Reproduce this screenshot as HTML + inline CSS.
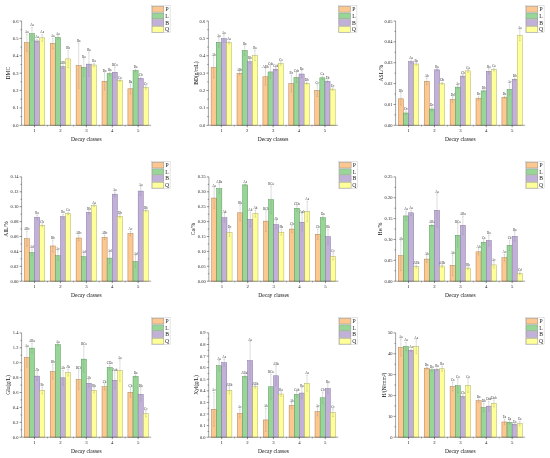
<!DOCTYPE html>
<html><head><meta charset="utf-8"><title>Decay classes charts</title>
<style>
html,body{margin:0;padding:0;background:#fff;}
svg{display:block}
text{font-family:"Liberation Serif",serif;fill:#222}
.bl{font-size:3.2px;text-anchor:middle;fill:#333}
.yt{font-size:4.5px;text-anchor:end}
.xt{font-size:4.8px;text-anchor:middle}
.ti{font-size:5.5px;text-anchor:middle;fill:#111}
.lg{font-size:5.7px;text-anchor:middle}
</style></head><body>
<svg width="550" height="458" viewBox="0 0 550 458">
<rect width="550" height="458" fill="#fff"/>
<g><rect x="24.31" y="42.73" width="5.12" height="82.57" fill="#FDC790" stroke="#A87848" stroke-width="0.45"/><path d="M26.87 34.04V51.42M26.07 34.04h1.6M26.07 51.42h1.6" stroke="#888" stroke-width="0.28" fill="none"/><text x="26.87" y="33.14" class="bl">Aa</text><rect x="29.43" y="33.69" width="5.12" height="91.61" fill="#98D698" stroke="#4F8F4F" stroke-width="0.45"/><path d="M31.99 27.26V40.12M31.19 27.26h1.6M31.19 40.12h1.6" stroke="#888" stroke-width="0.28" fill="none"/><text x="31.99" y="26.36" class="bl">Aa</text><rect x="34.55" y="40.99" width="5.12" height="84.31" fill="#C1B0D7" stroke="#7F6F9F" stroke-width="0.45"/><path d="M37.11 39.25V42.73M36.31 39.25h1.6M36.31 42.73h1.6" stroke="#888" stroke-width="0.28" fill="none"/><text x="37.11" y="38.35" class="bl">Aa</text><rect x="39.67" y="37.86" width="5.12" height="87.44" fill="#FFFF99" stroke="#A8A860" stroke-width="0.45"/><path d="M42.23 34.39V41.34M41.43 34.39h1.6M41.43 41.34h1.6" stroke="#888" stroke-width="0.28" fill="none"/><text x="42.23" y="33.49" class="bl">Aa</text><rect x="50.21" y="43.42" width="5.12" height="81.88" fill="#FDC790" stroke="#A87848" stroke-width="0.45"/><path d="M52.77 38.21V48.64M51.97 38.21h1.6M51.97 48.64h1.6" stroke="#888" stroke-width="0.28" fill="none"/><text x="52.77" y="37.31" class="bl">Aa</text><rect x="55.33" y="37.51" width="5.12" height="87.79" fill="#98D698" stroke="#4F8F4F" stroke-width="0.45"/><path d="M57.89 35.78V39.25M57.09 35.78h1.6M57.09 39.25h1.6" stroke="#888" stroke-width="0.28" fill="none"/><text x="57.89" y="34.88" class="bl">Aa</text><rect x="60.45" y="66.72" width="5.12" height="58.58" fill="#C1B0D7" stroke="#7F6F9F" stroke-width="0.45"/><path d="M63.01 64.98V68.46M62.21 64.98h1.6M62.21 68.46h1.6" stroke="#888" stroke-width="0.28" fill="none"/><text x="63.01" y="64.08" class="bl">ABb</text><rect x="65.57" y="58.9" width="5.12" height="66.4" fill="#FFFF99" stroke="#A8A860" stroke-width="0.45"/><path d="M68.13 50.2V67.59M67.33 50.2h1.6M67.33 67.59h1.6" stroke="#888" stroke-width="0.28" fill="none"/><text x="68.13" y="49.3" class="bl">Bb</text><rect x="76.11" y="65.68" width="5.12" height="59.62" fill="#FDC790" stroke="#A87848" stroke-width="0.45"/><path d="M78.67 43.08V88.27M77.87 43.08h1.6M77.87 88.27h1.6" stroke="#888" stroke-width="0.28" fill="none"/><text x="78.67" y="42.18" class="bl">Ba</text><rect x="81.23" y="67.41" width="5.12" height="57.89" fill="#98D698" stroke="#4F8F4F" stroke-width="0.45"/><path d="M83.79 58.72V76.11M82.99 58.72h1.6M82.99 76.11h1.6" stroke="#888" stroke-width="0.28" fill="none"/><text x="83.79" y="57.82" class="bl">Ba</text><rect x="86.35" y="64.11" width="5.12" height="61.19" fill="#C1B0D7" stroke="#7F6F9F" stroke-width="0.45"/><path d="M88.91 51.94V76.28M88.11 51.94h1.6M88.11 76.28h1.6" stroke="#888" stroke-width="0.28" fill="none"/><text x="88.91" y="51.04" class="bl">Ba</text><rect x="91.47" y="64.98" width="5.12" height="60.32" fill="#FFFF99" stroke="#A8A860" stroke-width="0.45"/><path d="M94.03 63.24V66.72M93.23 63.24h1.6M93.23 66.72h1.6" stroke="#888" stroke-width="0.28" fill="none"/><text x="94.03" y="62.34" class="bl">Ba</text><rect x="102.01" y="81.32" width="5.12" height="43.98" fill="#FDC790" stroke="#A87848" stroke-width="0.45"/><path d="M104.57 72.63V90.01M103.77 72.63h1.6M103.77 90.01h1.6" stroke="#888" stroke-width="0.28" fill="none"/><text x="104.57" y="71.73" class="bl">Ba</text><rect x="107.13" y="73.67" width="5.12" height="51.63" fill="#98D698" stroke="#4F8F4F" stroke-width="0.45"/><path d="M109.69 71.93V75.41M108.89 71.93h1.6M108.89 75.41h1.6" stroke="#888" stroke-width="0.28" fill="none"/><text x="109.69" y="71.03" class="bl">Ba</text><rect x="112.25" y="72.28" width="5.12" height="53.02" fill="#C1B0D7" stroke="#7F6F9F" stroke-width="0.45"/><path d="M114.81 67.07V77.5M114.01 67.07h1.6M114.01 77.5h1.6" stroke="#888" stroke-width="0.28" fill="none"/><text x="114.81" y="66.17" class="bl">BCa</text><rect x="117.37" y="80.62" width="5.12" height="44.68" fill="#FFFF99" stroke="#A8A860" stroke-width="0.45"/><path d="M119.93 79.76V81.49M119.13 79.76h1.6M119.13 81.49h1.6" stroke="#888" stroke-width="0.28" fill="none"/><text x="119.93" y="78.86" class="bl">Ca</text><rect x="127.91" y="88.79" width="5.12" height="36.51" fill="#FDC790" stroke="#A87848" stroke-width="0.45"/><path d="M130.47 83.93V93.66M129.67 83.93h1.6M129.67 93.66h1.6" stroke="#888" stroke-width="0.28" fill="none"/><text x="130.47" y="83.03" class="bl">Ba</text><rect x="133.03" y="70.54" width="5.12" height="54.76" fill="#98D698" stroke="#4F8F4F" stroke-width="0.45"/><path d="M135.59 69.15V71.93M134.79 69.15h1.6M134.79 71.93h1.6" stroke="#888" stroke-width="0.28" fill="none"/><text x="135.59" y="68.25" class="bl">Ba</text><rect x="138.15" y="78.54" width="5.12" height="46.76" fill="#C1B0D7" stroke="#7F6F9F" stroke-width="0.45"/><path d="M140.71 77.15V79.93M139.91 77.15h1.6M139.91 79.93h1.6" stroke="#888" stroke-width="0.28" fill="none"/><text x="140.71" y="76.25" class="bl">Cb</text><rect x="143.27" y="87.4" width="5.12" height="37.9" fill="#FFFF99" stroke="#A8A860" stroke-width="0.45"/><path d="M145.83 85.67V89.14M145.03 85.67h1.6M145.03 89.14h1.6" stroke="#888" stroke-width="0.28" fill="none"/><text x="145.83" y="84.77" class="bl">Cc</text><path d="M21.6 21V125.3H151.1" stroke="#3a3a3a" stroke-width="0.48" fill="none"/><text x="18.4" y="126.8" class="yt">0.0</text><text x="18.4" y="109.42" class="yt">0.1</text><text x="18.4" y="92.03" class="yt">0.2</text><text x="18.4" y="74.65" class="yt">0.3</text><text x="18.4" y="57.27" class="yt">0.4</text><text x="18.4" y="39.88" class="yt">0.5</text><text x="18.4" y="22.5" class="yt">0.6</text><text x="34.55" y="132.1" class="xt">1</text><text x="60.45" y="132.1" class="xt">2</text><text x="86.35" y="132.1" class="xt">3</text><text x="112.25" y="132.1" class="xt">4</text><text x="138.15" y="132.1" class="xt">5</text><path d="M21.6 125.3h-2M21.6 116.61h-1.1M21.6 107.92h-2M21.6 99.22h-1.1M21.6 90.53h-2M21.6 81.84h-1.1M21.6 73.15h-2M21.6 64.46h-1.1M21.6 55.77h-2M21.6 47.08h-1.1M21.6 38.38h-2M21.6 29.69h-1.1M21.6 21h-2M34.55 125.3v2M47.5 125.3v1.1M60.45 125.3v2M73.4 125.3v1.1M86.35 125.3v2M99.3 125.3v1.1M112.25 125.3v2M125.2 125.3v1.1M138.15 125.3v2" stroke="#222" stroke-width="0.5" fill="none"/><text x="86.35" y="141.1" class="ti">Decay classes</text><text transform="translate(8 73.15) rotate(-90)" y="1.8" class="ti">DMC</text><rect x="151.4" y="5.4" width="18.7" height="27.3" fill="#fff" stroke="#bbb" stroke-width="0.4"/><rect x="152.1" y="6.3" width="11.7" height="5.8" fill="#FDC790" stroke="#8a8a8a" stroke-width="0.45"/><text x="167.1" y="11.1" class="lg">P</text><rect x="152.1" y="13" width="11.7" height="5.8" fill="#98D698" stroke="#8a8a8a" stroke-width="0.45"/><text x="167.1" y="17.8" class="lg">L</text><rect x="152.1" y="19.7" width="11.7" height="5.8" fill="#C1B0D7" stroke="#8a8a8a" stroke-width="0.45"/><text x="167.1" y="24.5" class="lg">B</text><rect x="152.1" y="26.4" width="11.7" height="5.8" fill="#FFFF99" stroke="#8a8a8a" stroke-width="0.45"/><text x="167.1" y="31.2" class="lg">Q</text></g>
<g><rect x="211.11" y="67.41" width="5.12" height="57.89" fill="#FDC790" stroke="#A87848" stroke-width="0.45"/><path d="M213.67 56.98V77.84M212.87 56.98h1.6M212.87 77.84h1.6" stroke="#888" stroke-width="0.28" fill="none"/><text x="213.67" y="56.08" class="bl">Ab</text><rect x="216.23" y="42.38" width="5.12" height="82.92" fill="#98D698" stroke="#4F8F4F" stroke-width="0.45"/><path d="M218.79 37.51V47.25M217.99 37.51h1.6M217.99 47.25h1.6" stroke="#888" stroke-width="0.28" fill="none"/><text x="218.79" y="36.61" class="bl">Aa</text><rect x="221.35" y="38.56" width="5.12" height="86.74" fill="#C1B0D7" stroke="#7F6F9F" stroke-width="0.45"/><path d="M223.91 34.73V42.38M223.11 34.73h1.6M223.11 42.38h1.6" stroke="#888" stroke-width="0.28" fill="none"/><text x="223.91" y="33.83" class="bl">Aa</text><rect x="226.47" y="42.73" width="5.12" height="82.57" fill="#FFFF99" stroke="#A8A860" stroke-width="0.45"/><path d="M229.03 41.34V44.12M228.23 41.34h1.6M228.23 44.12h1.6" stroke="#888" stroke-width="0.28" fill="none"/><text x="229.03" y="40.44" class="bl">Aa</text><rect x="237.01" y="73.32" width="5.12" height="51.98" fill="#FDC790" stroke="#A87848" stroke-width="0.45"/><path d="M239.57 71.59V75.06M238.77 71.59h1.6M238.77 75.06h1.6" stroke="#888" stroke-width="0.28" fill="none"/><text x="239.57" y="70.69" class="bl">ABc</text><rect x="242.13" y="50.55" width="5.12" height="74.75" fill="#98D698" stroke="#4F8F4F" stroke-width="0.45"/><path d="M244.69 45.86V55.25M243.89 45.86h1.6M243.89 55.25h1.6" stroke="#888" stroke-width="0.28" fill="none"/><text x="244.69" y="44.96" class="bl">Ba</text><rect x="247.25" y="61.68" width="5.12" height="63.62" fill="#C1B0D7" stroke="#7F6F9F" stroke-width="0.45"/><path d="M249.81 59.59V63.76M249.01 59.59h1.6M249.01 63.76h1.6" stroke="#888" stroke-width="0.28" fill="none"/><text x="249.81" y="58.69" class="bl">Bb</text><rect x="252.37" y="55.42" width="5.12" height="69.88" fill="#FFFF99" stroke="#A8A860" stroke-width="0.45"/><path d="M254.93 50.2V60.63M254.13 50.2h1.6M254.13 60.63h1.6" stroke="#888" stroke-width="0.28" fill="none"/><text x="254.93" y="49.3" class="bl">Ba</text><rect x="262.91" y="76.8" width="5.12" height="48.5" fill="#FDC790" stroke="#A87848" stroke-width="0.45"/><path d="M265.47 68.46V85.14M264.67 68.46h1.6M264.67 85.14h1.6" stroke="#888" stroke-width="0.28" fill="none"/><text x="265.47" y="67.56" class="bl">ABb</text><rect x="268.03" y="71.93" width="5.12" height="53.37" fill="#98D698" stroke="#4F8F4F" stroke-width="0.45"/><path d="M270.59 65.68V78.19M269.79 65.68h1.6M269.79 78.19h1.6" stroke="#888" stroke-width="0.28" fill="none"/><text x="270.59" y="64.78" class="bl">Cab</text><rect x="273.15" y="69.15" width="5.12" height="56.15" fill="#C1B0D7" stroke="#7F6F9F" stroke-width="0.45"/><path d="M275.71 67.41V70.89M274.91 67.41h1.6M274.91 70.89h1.6" stroke="#888" stroke-width="0.28" fill="none"/><text x="275.71" y="66.51" class="bl">Cab</text><rect x="278.27" y="63.42" width="5.12" height="61.88" fill="#FFFF99" stroke="#A8A860" stroke-width="0.45"/><path d="M280.83 61.68V65.15M280.03 61.68h1.6M280.03 65.15h1.6" stroke="#888" stroke-width="0.28" fill="none"/><text x="280.83" y="60.78" class="bl">Ca</text><rect x="288.81" y="83.58" width="5.12" height="41.72" fill="#FDC790" stroke="#A87848" stroke-width="0.45"/><path d="M291.37 75.24V91.92M290.57 75.24h1.6M290.57 91.92h1.6" stroke="#888" stroke-width="0.28" fill="none"/><text x="291.37" y="74.34" class="bl">Bc</text><rect x="293.93" y="77.5" width="5.12" height="47.8" fill="#98D698" stroke="#4F8F4F" stroke-width="0.45"/><path d="M296.49 72.63V82.36M295.69 72.63h1.6M295.69 82.36h1.6" stroke="#888" stroke-width="0.28" fill="none"/><text x="296.49" y="71.73" class="bl">Cab</text><rect x="299.05" y="74.02" width="5.12" height="51.28" fill="#C1B0D7" stroke="#7F6F9F" stroke-width="0.45"/><path d="M301.61 70.54V77.5M300.81 70.54h1.6M300.81 77.5h1.6" stroke="#888" stroke-width="0.28" fill="none"/><text x="301.61" y="69.64" class="bl">Da</text><rect x="304.17" y="83.23" width="5.12" height="42.07" fill="#FFFF99" stroke="#A8A860" stroke-width="0.45"/><path d="M306.73 82.19V84.28M305.93 82.19h1.6M305.93 84.28h1.6" stroke="#888" stroke-width="0.28" fill="none"/><text x="306.73" y="81.29" class="bl">Db</text><rect x="314.71" y="90.53" width="5.12" height="34.77" fill="#FDC790" stroke="#A87848" stroke-width="0.45"/><path d="M317.27 84.62V96.44M316.47 84.62h1.6M316.47 96.44h1.6" stroke="#888" stroke-width="0.28" fill="none"/><text x="317.27" y="83.72" class="bl">Cc</text><rect x="319.83" y="77.84" width="5.12" height="47.46" fill="#98D698" stroke="#4F8F4F" stroke-width="0.45"/><path d="M322.39 76.11V79.58M321.59 76.11h1.6M321.59 79.58h1.6" stroke="#888" stroke-width="0.28" fill="none"/><text x="322.39" y="75.21" class="bl">Ca</text><rect x="324.95" y="81.32" width="5.12" height="43.98" fill="#C1B0D7" stroke="#7F6F9F" stroke-width="0.45"/><path d="M327.51 79.93V82.71M326.71 79.93h1.6M326.71 82.71h1.6" stroke="#888" stroke-width="0.28" fill="none"/><text x="327.51" y="79.03" class="bl">Eb</text><rect x="330.07" y="89.14" width="5.12" height="36.16" fill="#FFFF99" stroke="#A8A860" stroke-width="0.45"/><path d="M332.63 87.75V90.53M331.83 87.75h1.6M331.83 90.53h1.6" stroke="#888" stroke-width="0.28" fill="none"/><text x="332.63" y="86.85" class="bl">Ec</text><path d="M208.4 21V125.3H337.9" stroke="#3a3a3a" stroke-width="0.48" fill="none"/><text x="205.2" y="126.8" class="yt">0.0</text><text x="205.2" y="109.42" class="yt">0.1</text><text x="205.2" y="92.03" class="yt">0.2</text><text x="205.2" y="74.65" class="yt">0.3</text><text x="205.2" y="57.27" class="yt">0.4</text><text x="205.2" y="39.88" class="yt">0.5</text><text x="205.2" y="22.5" class="yt">0.6</text><text x="221.35" y="132.1" class="xt">1</text><text x="247.25" y="132.1" class="xt">2</text><text x="273.15" y="132.1" class="xt">3</text><text x="299.05" y="132.1" class="xt">4</text><text x="324.95" y="132.1" class="xt">5</text><path d="M208.4 125.3h-2M208.4 116.61h-1.1M208.4 107.92h-2M208.4 99.22h-1.1M208.4 90.53h-2M208.4 81.84h-1.1M208.4 73.15h-2M208.4 64.46h-1.1M208.4 55.77h-2M208.4 47.08h-1.1M208.4 38.38h-2M208.4 29.69h-1.1M208.4 21h-2M221.35 125.3v2M234.3 125.3v1.1M247.25 125.3v2M260.2 125.3v1.1M273.15 125.3v2M286.1 125.3v1.1M299.05 125.3v2M312 125.3v1.1M324.95 125.3v2" stroke="#222" stroke-width="0.5" fill="none"/><text x="273.15" y="141.1" class="ti">Decay classes</text><text transform="translate(196.2 73.15) rotate(-90)" y="1.8" class="ti">BD(g/mL)</text><rect x="338.2" y="5.4" width="18.7" height="27.3" fill="#fff" stroke="#bbb" stroke-width="0.4"/><rect x="338.9" y="6.3" width="11.7" height="5.8" fill="#FDC790" stroke="#8a8a8a" stroke-width="0.45"/><text x="353.9" y="11.1" class="lg">P</text><rect x="338.9" y="13" width="11.7" height="5.8" fill="#98D698" stroke="#8a8a8a" stroke-width="0.45"/><text x="353.9" y="17.8" class="lg">L</text><rect x="338.9" y="19.7" width="11.7" height="5.8" fill="#C1B0D7" stroke="#8a8a8a" stroke-width="0.45"/><text x="353.9" y="24.5" class="lg">B</text><rect x="338.9" y="26.4" width="11.7" height="5.8" fill="#FFFF99" stroke="#8a8a8a" stroke-width="0.45"/><text x="353.9" y="31.2" class="lg">Q</text></g>
<g><rect x="398.31" y="98.81" width="5.12" height="26.49" fill="#FDC790" stroke="#A87848" stroke-width="0.45"/><path d="M400.87 92.55V105.07M400.07 92.55h1.6M400.07 105.07h1.6" stroke="#888" stroke-width="0.28" fill="none"/><text x="400.87" y="91.65" class="bl">Bb</text><rect x="403.43" y="112.99" width="5.12" height="12.31" fill="#98D698" stroke="#4F8F4F" stroke-width="0.45"/><path d="M405.99 111.32V114.66M405.19 111.32h1.6M405.19 114.66h1.6" stroke="#888" stroke-width="0.28" fill="none"/><text x="405.99" y="110.42" class="bl">Dc</text><rect x="408.55" y="61.68" width="5.12" height="63.62" fill="#C1B0D7" stroke="#7F6F9F" stroke-width="0.45"/><path d="M411.11 60.22V63.14M410.31 60.22h1.6M410.31 63.14h1.6" stroke="#888" stroke-width="0.28" fill="none"/><text x="411.11" y="59.32" class="bl">Aa</text><rect x="413.67" y="63.97" width="5.12" height="61.33" fill="#FFFF99" stroke="#A8A860" stroke-width="0.45"/><path d="M416.23 62.51V65.43M415.43 62.51h1.6M415.43 65.43h1.6" stroke="#888" stroke-width="0.28" fill="none"/><text x="416.23" y="61.61" class="bl">Ba</text><rect x="424.21" y="81.29" width="5.12" height="44.01" fill="#FDC790" stroke="#A87848" stroke-width="0.45"/><path d="M426.77 77.95V84.62M425.97 77.95h1.6M425.97 84.62h1.6" stroke="#888" stroke-width="0.28" fill="none"/><text x="426.77" y="77.05" class="bl">Ab</text><rect x="429.33" y="109.03" width="5.12" height="16.27" fill="#98D698" stroke="#4F8F4F" stroke-width="0.45"/><path d="M431.89 106.94V111.12M431.09 106.94h1.6M431.09 111.12h1.6" stroke="#888" stroke-width="0.28" fill="none"/><text x="431.89" y="106.04" class="bl">Dc</text><rect x="434.45" y="69.81" width="5.12" height="55.49" fill="#C1B0D7" stroke="#7F6F9F" stroke-width="0.45"/><path d="M437.01 68.77V70.86M436.21 68.77h1.6M436.21 70.86h1.6" stroke="#888" stroke-width="0.28" fill="none"/><text x="437.01" y="67.87" class="bl">Ba</text><rect x="439.57" y="83.37" width="5.12" height="41.93" fill="#FFFF99" stroke="#A8A860" stroke-width="0.45"/><path d="M442.13 82.33V84.41M441.33 82.33h1.6M441.33 84.41h1.6" stroke="#888" stroke-width="0.28" fill="none"/><text x="442.13" y="81.43" class="bl">Db</text><rect x="450.11" y="99.43" width="5.12" height="25.87" fill="#FDC790" stroke="#A87848" stroke-width="0.45"/><path d="M452.67 96.72V102.15M451.87 96.72h1.6M451.87 102.15h1.6" stroke="#888" stroke-width="0.28" fill="none"/><text x="452.67" y="95.82" class="bl">Bd</text><rect x="455.23" y="87.13" width="5.12" height="38.17" fill="#98D698" stroke="#4F8F4F" stroke-width="0.45"/><path d="M457.79 85.46V88.79M456.99 85.46h1.6M456.99 88.79h1.6" stroke="#888" stroke-width="0.28" fill="none"/><text x="457.79" y="84.56" class="bl">Ac</text><rect x="460.35" y="76.07" width="5.12" height="49.23" fill="#C1B0D7" stroke="#7F6F9F" stroke-width="0.45"/><path d="M462.91 74.4V77.74M462.11 74.4h1.6M462.11 77.74h1.6" stroke="#888" stroke-width="0.28" fill="none"/><text x="462.91" y="73.5" class="bl">Cb</text><rect x="465.47" y="70.86" width="5.12" height="54.44" fill="#FFFF99" stroke="#A8A860" stroke-width="0.45"/><path d="M468.03 69.4V72.32M467.23 69.4h1.6M467.23 72.32h1.6" stroke="#888" stroke-width="0.28" fill="none"/><text x="468.03" y="68.5" class="bl">Ca</text><rect x="476.01" y="98.18" width="5.12" height="27.12" fill="#FDC790" stroke="#A87848" stroke-width="0.45"/><path d="M478.57 96.1V100.27M477.77 96.1h1.6M477.77 100.27h1.6" stroke="#888" stroke-width="0.28" fill="none"/><text x="478.57" y="95.2" class="bl">Bc</text><rect x="481.13" y="90.88" width="5.12" height="34.42" fill="#98D698" stroke="#4F8F4F" stroke-width="0.45"/><path d="M483.69 89.84V91.92M482.89 89.84h1.6M482.89 91.92h1.6" stroke="#888" stroke-width="0.28" fill="none"/><text x="483.69" y="88.94" class="bl">Bb</text><rect x="486.25" y="71.27" width="5.12" height="54.03" fill="#C1B0D7" stroke="#7F6F9F" stroke-width="0.45"/><path d="M488.81 68.56V73.98M488.01 68.56h1.6M488.01 73.98h1.6" stroke="#888" stroke-width="0.28" fill="none"/><text x="488.81" y="67.66" class="bl">Ba</text><rect x="491.37" y="69.6" width="5.12" height="55.7" fill="#FFFF99" stroke="#A8A860" stroke-width="0.45"/><path d="M493.93 68.14V71.06M493.13 68.14h1.6M493.13 71.06h1.6" stroke="#888" stroke-width="0.28" fill="none"/><text x="493.93" y="67.24" class="bl">Ca</text><rect x="501.91" y="97.35" width="5.12" height="27.95" fill="#FDC790" stroke="#A87848" stroke-width="0.45"/><path d="M504.47 96.3V98.39M503.67 96.3h1.6M503.67 98.39h1.6" stroke="#888" stroke-width="0.28" fill="none"/><text x="504.47" y="95.4" class="bl">Bc</text><rect x="507.03" y="89.42" width="5.12" height="35.88" fill="#98D698" stroke="#4F8F4F" stroke-width="0.45"/><path d="M509.59 84V94.84M508.79 84h1.6M508.79 94.84h1.6" stroke="#888" stroke-width="0.28" fill="none"/><text x="509.59" y="83.1" class="bl">Ac</text><rect x="512.15" y="79.2" width="5.12" height="46.1" fill="#C1B0D7" stroke="#7F6F9F" stroke-width="0.45"/><path d="M514.71 78.16V80.24M513.91 78.16h1.6M513.91 80.24h1.6" stroke="#888" stroke-width="0.28" fill="none"/><text x="514.71" y="77.26" class="bl">Db</text><rect x="517.27" y="35.18" width="5.12" height="90.12" fill="#FFFF99" stroke="#A8A860" stroke-width="0.45"/><path d="M519.83 29.76V40.61M519.03 29.76h1.6M519.03 40.61h1.6" stroke="#888" stroke-width="0.28" fill="none"/><text x="519.83" y="28.86" class="bl">Aa</text><path d="M395.6 21V125.3H525.1" stroke="#3a3a3a" stroke-width="0.48" fill="none"/><text x="392.4" y="126.8" class="yt">0.00</text><text x="392.4" y="105.94" class="yt">0.01</text><text x="392.4" y="85.08" class="yt">0.02</text><text x="392.4" y="64.22" class="yt">0.03</text><text x="392.4" y="43.36" class="yt">0.04</text><text x="392.4" y="22.5" class="yt">0.05</text><text x="408.55" y="132.1" class="xt">1</text><text x="434.45" y="132.1" class="xt">2</text><text x="460.35" y="132.1" class="xt">3</text><text x="486.25" y="132.1" class="xt">4</text><text x="512.15" y="132.1" class="xt">5</text><path d="M395.6 125.3h-2M395.6 114.87h-1.1M395.6 104.44h-2M395.6 94.01h-1.1M395.6 83.58h-2M395.6 73.15h-1.1M395.6 62.72h-2M395.6 52.29h-1.1M395.6 41.86h-2M395.6 31.43h-1.1M395.6 21h-2M408.55 125.3v2M421.5 125.3v1.1M434.45 125.3v2M447.4 125.3v1.1M460.35 125.3v2M473.3 125.3v1.1M486.25 125.3v2M499.2 125.3v1.1M512.15 125.3v2" stroke="#222" stroke-width="0.5" fill="none"/><text x="460.35" y="141.1" class="ti">Decay classes</text><text transform="translate(380.7 73.15) rotate(-90)" y="1.8" class="ti">ASL/%</text><rect x="525.4" y="5.4" width="18.7" height="27.3" fill="#fff" stroke="#bbb" stroke-width="0.4"/><rect x="526.1" y="6.3" width="11.7" height="5.8" fill="#FDC790" stroke="#8a8a8a" stroke-width="0.45"/><text x="541.1" y="11.1" class="lg">P</text><rect x="526.1" y="13" width="11.7" height="5.8" fill="#98D698" stroke="#8a8a8a" stroke-width="0.45"/><text x="541.1" y="17.8" class="lg">L</text><rect x="526.1" y="19.7" width="11.7" height="5.8" fill="#C1B0D7" stroke="#8a8a8a" stroke-width="0.45"/><text x="541.1" y="24.5" class="lg">B</text><rect x="526.1" y="26.4" width="11.7" height="5.8" fill="#FFFF99" stroke="#8a8a8a" stroke-width="0.45"/><text x="541.1" y="31.2" class="lg">Q</text></g>
<g><rect x="24.31" y="238.73" width="5.12" height="42.46" fill="#FDC790" stroke="#A87848" stroke-width="0.45"/><path d="M26.87 231.28V246.19M26.07 231.28h1.6M26.07 246.19h1.6" stroke="#888" stroke-width="0.28" fill="none"/><text x="26.87" y="230.38" class="bl">ABc</text><rect x="29.43" y="252.59" width="5.12" height="28.61" fill="#98D698" stroke="#4F8F4F" stroke-width="0.45"/><path d="M31.99 249.16V256.02M31.19 249.16h1.6M31.19 256.02h1.6" stroke="#888" stroke-width="0.28" fill="none"/><text x="31.99" y="248.26" class="bl">Ad</text><rect x="34.55" y="217.28" width="5.12" height="63.92" fill="#C1B0D7" stroke="#7F6F9F" stroke-width="0.45"/><path d="M37.11 215.04V219.51M36.31 215.04h1.6M36.31 219.51h1.6" stroke="#888" stroke-width="0.28" fill="none"/><text x="37.11" y="214.14" class="bl">Ba</text><rect x="39.67" y="225.25" width="5.12" height="55.95" fill="#FFFF99" stroke="#A8A860" stroke-width="0.45"/><path d="M42.23 223.76V226.74M41.43 223.76h1.6M41.43 226.74h1.6" stroke="#888" stroke-width="0.28" fill="none"/><text x="42.23" y="222.86" class="bl">Cb</text><rect x="50.21" y="245.96" width="5.12" height="35.24" fill="#FDC790" stroke="#A87848" stroke-width="0.45"/><path d="M52.77 240V251.92M51.97 240h1.6M51.97 251.92h1.6" stroke="#888" stroke-width="0.28" fill="none"/><text x="52.77" y="239.1" class="bl">Bb</text><rect x="55.33" y="255.65" width="5.12" height="25.55" fill="#98D698" stroke="#4F8F4F" stroke-width="0.45"/><path d="M57.89 250.8V260.49M57.09 250.8h1.6M57.09 260.49h1.6" stroke="#888" stroke-width="0.28" fill="none"/><text x="57.89" y="249.9" class="bl">Ac</text><rect x="60.45" y="216.61" width="5.12" height="64.59" fill="#C1B0D7" stroke="#7F6F9F" stroke-width="0.45"/><path d="M63.01 214.37V218.84M62.21 214.37h1.6M62.21 218.84h1.6" stroke="#888" stroke-width="0.28" fill="none"/><text x="63.01" y="213.47" class="bl">Ba</text><rect x="65.57" y="213.48" width="5.12" height="67.72" fill="#FFFF99" stroke="#A8A860" stroke-width="0.45"/><path d="M68.13 212.36V214.6M67.33 212.36h1.6M67.33 214.6h1.6" stroke="#888" stroke-width="0.28" fill="none"/><text x="68.13" y="211.46" class="bl">Ca</text><rect x="76.11" y="237.99" width="5.12" height="43.21" fill="#FDC790" stroke="#A87848" stroke-width="0.45"/><path d="M78.67 235.23V240.75M77.87 235.23h1.6M77.87 240.75h1.6" stroke="#888" stroke-width="0.28" fill="none"/><text x="78.67" y="234.33" class="bl">ABc</text><rect x="81.23" y="256.69" width="5.12" height="24.51" fill="#98D698" stroke="#4F8F4F" stroke-width="0.45"/><path d="M83.79 253.93V259.45M82.99 253.93h1.6M82.99 259.45h1.6" stroke="#888" stroke-width="0.28" fill="none"/><text x="83.79" y="253.03" class="bl">Ad</text><rect x="86.35" y="212.44" width="5.12" height="68.76" fill="#C1B0D7" stroke="#7F6F9F" stroke-width="0.45"/><path d="M88.91 210.72V214.15M88.11 210.72h1.6M88.11 214.15h1.6" stroke="#888" stroke-width="0.28" fill="none"/><text x="88.91" y="209.82" class="bl">Bb</text><rect x="91.47" y="205.58" width="5.12" height="75.62" fill="#FFFF99" stroke="#A8A860" stroke-width="0.45"/><path d="M94.03 204.46V206.7M93.23 204.46h1.6M93.23 206.7h1.6" stroke="#888" stroke-width="0.28" fill="none"/><text x="94.03" y="203.56" class="bl">Aa</text><rect x="102.01" y="237.32" width="5.12" height="43.88" fill="#FDC790" stroke="#A87848" stroke-width="0.45"/><path d="M104.57 235.08V239.55M103.77 235.08h1.6M103.77 239.55h1.6" stroke="#888" stroke-width="0.28" fill="none"/><text x="104.57" y="234.18" class="bl">ABc</text><rect x="107.13" y="258.11" width="5.12" height="23.09" fill="#98D698" stroke="#4F8F4F" stroke-width="0.45"/><path d="M109.69 252.89V263.32M108.89 252.89h1.6M108.89 263.32h1.6" stroke="#888" stroke-width="0.28" fill="none"/><text x="109.69" y="251.99" class="bl">Ad</text><rect x="112.25" y="194.18" width="5.12" height="87.02" fill="#C1B0D7" stroke="#7F6F9F" stroke-width="0.45"/><path d="M114.81 191.95V196.42M114.01 191.95h1.6M114.01 196.42h1.6" stroke="#888" stroke-width="0.28" fill="none"/><text x="114.81" y="191.05" class="bl">Aa</text><rect x="117.37" y="216.24" width="5.12" height="64.96" fill="#FFFF99" stroke="#A8A860" stroke-width="0.45"/><path d="M119.93 214.52V217.95M119.13 214.52h1.6M119.13 217.95h1.6" stroke="#888" stroke-width="0.28" fill="none"/><text x="119.93" y="213.62" class="bl">Db</text><rect x="127.91" y="233.52" width="5.12" height="47.68" fill="#FDC790" stroke="#A87848" stroke-width="0.45"/><path d="M130.47 231.28V235.75M129.67 231.28h1.6M129.67 235.75h1.6" stroke="#888" stroke-width="0.28" fill="none"/><text x="130.47" y="230.38" class="bl">Ac</text><rect x="133.03" y="261.53" width="5.12" height="19.67" fill="#98D698" stroke="#4F8F4F" stroke-width="0.45"/><path d="M135.59 255.57V267.49M134.79 255.57h1.6M134.79 267.49h1.6" stroke="#888" stroke-width="0.28" fill="none"/><text x="135.59" y="254.67" class="bl">Ad</text><rect x="138.15" y="191.06" width="5.12" height="90.14" fill="#C1B0D7" stroke="#7F6F9F" stroke-width="0.45"/><path d="M140.71 186.59V195.53M139.91 186.59h1.6M139.91 195.53h1.6" stroke="#888" stroke-width="0.28" fill="none"/><text x="140.71" y="185.69" class="bl">Aa</text><rect x="143.27" y="210.72" width="5.12" height="70.48" fill="#FFFF99" stroke="#A8A860" stroke-width="0.45"/><path d="M145.83 209.61V211.84M145.03 209.61h1.6M145.03 211.84h1.6" stroke="#888" stroke-width="0.28" fill="none"/><text x="145.83" y="208.71" class="bl">Bb</text><path d="M21.6 176.9V281.2H151.1" stroke="#3a3a3a" stroke-width="0.48" fill="none"/><text x="18.4" y="282.7" class="yt">0.00</text><text x="18.4" y="267.8" class="yt">0.02</text><text x="18.4" y="252.9" class="yt">0.04</text><text x="18.4" y="238" class="yt">0.06</text><text x="18.4" y="223.1" class="yt">0.08</text><text x="18.4" y="208.2" class="yt">0.10</text><text x="18.4" y="193.3" class="yt">0.12</text><text x="18.4" y="178.4" class="yt">0.14</text><text x="34.55" y="288" class="xt">1</text><text x="60.45" y="288" class="xt">2</text><text x="86.35" y="288" class="xt">3</text><text x="112.25" y="288" class="xt">4</text><text x="138.15" y="288" class="xt">5</text><path d="M21.6 281.2h-2M21.6 273.75h-1.1M21.6 266.3h-2M21.6 258.85h-1.1M21.6 251.4h-2M21.6 243.95h-1.1M21.6 236.5h-2M21.6 229.05h-1.1M21.6 221.6h-2M21.6 214.15h-1.1M21.6 206.7h-2M21.6 199.25h-1.1M21.6 191.8h-2M21.6 184.35h-1.1M21.6 176.9h-2M34.55 281.2v2M47.5 281.2v1.1M60.45 281.2v2M73.4 281.2v1.1M86.35 281.2v2M99.3 281.2v1.1M112.25 281.2v2M125.2 281.2v1.1M138.15 281.2v2" stroke="#222" stroke-width="0.5" fill="none"/><text x="86.35" y="297" class="ti">Decay classes</text><text transform="translate(6.3 229.05) rotate(-90)" y="1.8" class="ti">AIL/%</text><rect x="151.4" y="161.3" width="18.7" height="27.3" fill="#fff" stroke="#bbb" stroke-width="0.4"/><rect x="152.1" y="162.2" width="11.7" height="5.8" fill="#FDC790" stroke="#8a8a8a" stroke-width="0.45"/><text x="167.1" y="167" class="lg">P</text><rect x="152.1" y="168.9" width="11.7" height="5.8" fill="#98D698" stroke="#8a8a8a" stroke-width="0.45"/><text x="167.1" y="173.7" class="lg">L</text><rect x="152.1" y="175.6" width="11.7" height="5.8" fill="#C1B0D7" stroke="#8a8a8a" stroke-width="0.45"/><text x="167.1" y="180.4" class="lg">B</text><rect x="152.1" y="182.3" width="11.7" height="5.8" fill="#FFFF99" stroke="#8a8a8a" stroke-width="0.45"/><text x="167.1" y="187.1" class="lg">Q</text></g>
<g><rect x="211.61" y="198.06" width="5.12" height="83.14" fill="#FDC790" stroke="#A87848" stroke-width="0.45"/><path d="M214.17 187.63V208.49M213.37 187.63h1.6M213.37 208.49h1.6" stroke="#888" stroke-width="0.28" fill="none"/><text x="214.17" y="186.73" class="bl">Aa</text><rect x="216.73" y="188.67" width="5.12" height="92.53" fill="#98D698" stroke="#4F8F4F" stroke-width="0.45"/><path d="M219.29 183.9V193.44M218.49 183.9h1.6M218.49 193.44h1.6" stroke="#888" stroke-width="0.28" fill="none"/><text x="219.29" y="183" class="bl">ABa</text><rect x="221.85" y="217.73" width="5.12" height="63.47" fill="#C1B0D7" stroke="#7F6F9F" stroke-width="0.45"/><path d="M224.41 213.55V221.9M223.61 213.55h1.6M223.61 221.9h1.6" stroke="#888" stroke-width="0.28" fill="none"/><text x="224.41" y="212.65" class="bl">Ab</text><rect x="226.97" y="232.51" width="5.12" height="48.69" fill="#FFFF99" stroke="#A8A860" stroke-width="0.45"/><path d="M229.53 228.63V236.38M228.73 228.63h1.6M228.73 236.38h1.6" stroke="#888" stroke-width="0.28" fill="none"/><text x="229.53" y="227.73" class="bl">Bc</text><rect x="237.51" y="212.84" width="5.12" height="68.36" fill="#FDC790" stroke="#A87848" stroke-width="0.45"/><path d="M240.07 204.79V220.88M239.27 204.79h1.6M239.27 220.88h1.6" stroke="#888" stroke-width="0.28" fill="none"/><text x="240.07" y="203.89" class="bl">Bb</text><rect x="242.63" y="184.86" width="5.12" height="96.34" fill="#98D698" stroke="#4F8F4F" stroke-width="0.45"/><path d="M245.19 183.96V185.75M244.39 183.96h1.6M244.39 185.75h1.6" stroke="#888" stroke-width="0.28" fill="none"/><text x="245.19" y="183.06" class="bl">Aa</text><rect x="247.75" y="219.39" width="5.12" height="61.81" fill="#C1B0D7" stroke="#7F6F9F" stroke-width="0.45"/><path d="M250.31 211.94V226.84M249.51 211.94h1.6M249.51 226.84h1.6" stroke="#888" stroke-width="0.28" fill="none"/><text x="250.31" y="211.04" class="bl">Ab</text><rect x="252.87" y="213.55" width="5.12" height="67.65" fill="#FFFF99" stroke="#A8A860" stroke-width="0.45"/><path d="M255.43 209.98V217.13M254.63 209.98h1.6M254.63 217.13h1.6" stroke="#888" stroke-width="0.28" fill="none"/><text x="255.43" y="209.08" class="bl">Ab</text><rect x="263.41" y="221.12" width="5.12" height="60.08" fill="#FDC790" stroke="#A87848" stroke-width="0.45"/><path d="M265.97 210.69V231.55M265.17 210.69h1.6M265.17 231.55h1.6" stroke="#888" stroke-width="0.28" fill="none"/><text x="265.97" y="209.79" class="bl">BCb</text><rect x="268.53" y="199.7" width="5.12" height="81.5" fill="#98D698" stroke="#4F8F4F" stroke-width="0.45"/><path d="M271.09 185.99V213.4M270.29 185.99h1.6M270.29 213.4h1.6" stroke="#888" stroke-width="0.28" fill="none"/><text x="271.09" y="185.09" class="bl">BCa</text><rect x="273.65" y="224.58" width="5.12" height="56.62" fill="#C1B0D7" stroke="#7F6F9F" stroke-width="0.45"/><path d="M276.21 220.41V228.75M275.41 220.41h1.6M275.41 228.75h1.6" stroke="#888" stroke-width="0.28" fill="none"/><text x="276.21" y="219.51" class="bl">Ab</text><rect x="278.77" y="232.18" width="5.12" height="49.02" fill="#FFFF99" stroke="#A8A860" stroke-width="0.45"/><path d="M281.33 229.2V235.16M280.53 229.2h1.6M280.53 235.16h1.6" stroke="#888" stroke-width="0.28" fill="none"/><text x="281.33" y="228.3" class="bl">Bb</text><rect x="289.31" y="229.05" width="5.12" height="52.15" fill="#FDC790" stroke="#A87848" stroke-width="0.45"/><path d="M291.87 225.47V232.63M291.07 225.47h1.6M291.07 232.63h1.6" stroke="#888" stroke-width="0.28" fill="none"/><text x="291.87" y="224.57" class="bl">Cb</text><rect x="294.43" y="208.34" width="5.12" height="72.86" fill="#98D698" stroke="#4F8F4F" stroke-width="0.45"/><path d="M296.99 205.66V211.02M296.19 205.66h1.6M296.19 211.02h1.6" stroke="#888" stroke-width="0.28" fill="none"/><text x="296.99" y="204.76" class="bl">CDa</text><rect x="299.55" y="222.2" width="5.12" height="59" fill="#C1B0D7" stroke="#7F6F9F" stroke-width="0.45"/><path d="M302.11 213.55V230.84M301.31 213.55h1.6M301.31 230.84h1.6" stroke="#888" stroke-width="0.28" fill="none"/><text x="302.11" y="212.65" class="bl">Aab</text><rect x="304.67" y="211.47" width="5.12" height="69.73" fill="#FFFF99" stroke="#A8A860" stroke-width="0.45"/><path d="M307.23 201.34V221.6M306.43 201.34h1.6M306.43 221.6h1.6" stroke="#888" stroke-width="0.28" fill="none"/><text x="307.23" y="200.44" class="bl">Aa</text><rect x="315.21" y="234.24" width="5.12" height="46.96" fill="#FDC790" stroke="#A87848" stroke-width="0.45"/><path d="M317.77 229.17V239.3M316.97 229.17h1.6M316.97 239.3h1.6" stroke="#888" stroke-width="0.28" fill="none"/><text x="317.77" y="228.27" class="bl">Cb</text><rect x="320.33" y="217.73" width="5.12" height="63.47" fill="#98D698" stroke="#4F8F4F" stroke-width="0.45"/><path d="M322.89 215.94V219.51M322.09 215.94h1.6M322.09 219.51h1.6" stroke="#888" stroke-width="0.28" fill="none"/><text x="322.89" y="215.04" class="bl">Da</text><rect x="325.45" y="236.65" width="5.12" height="44.55" fill="#C1B0D7" stroke="#7F6F9F" stroke-width="0.45"/><path d="M328.01 229.2V244.1M327.21 229.2h1.6M327.21 244.1h1.6" stroke="#888" stroke-width="0.28" fill="none"/><text x="328.01" y="228.3" class="bl">Bb</text><rect x="330.57" y="256.35" width="5.12" height="24.85" fill="#FFFF99" stroke="#A8A860" stroke-width="0.45"/><path d="M333.13 252.77V259.92M332.33 252.77h1.6M332.33 259.92h1.6" stroke="#888" stroke-width="0.28" fill="none"/><text x="333.13" y="251.87" class="bl">Cc</text><path d="M208.9 176.9V281.2H338.4" stroke="#3a3a3a" stroke-width="0.48" fill="none"/><text x="205.7" y="282.7" class="yt">0.00</text><text x="205.7" y="267.8" class="yt">0.05</text><text x="205.7" y="252.9" class="yt">0.10</text><text x="205.7" y="238" class="yt">0.15</text><text x="205.7" y="223.1" class="yt">0.20</text><text x="205.7" y="208.2" class="yt">0.25</text><text x="205.7" y="193.3" class="yt">0.30</text><text x="205.7" y="178.4" class="yt">0.35</text><text x="221.85" y="288" class="xt">1</text><text x="247.75" y="288" class="xt">2</text><text x="273.65" y="288" class="xt">3</text><text x="299.55" y="288" class="xt">4</text><text x="325.45" y="288" class="xt">5</text><path d="M208.9 281.2h-2M208.9 273.75h-1.1M208.9 266.3h-2M208.9 258.85h-1.1M208.9 251.4h-2M208.9 243.95h-1.1M208.9 236.5h-2M208.9 229.05h-1.1M208.9 221.6h-2M208.9 214.15h-1.1M208.9 206.7h-2M208.9 199.25h-1.1M208.9 191.8h-2M208.9 184.35h-1.1M208.9 176.9h-2M221.85 281.2v2M234.8 281.2v1.1M247.75 281.2v2M260.7 281.2v1.1M273.65 281.2v2M286.6 281.2v1.1M299.55 281.2v2M312.5 281.2v1.1M325.45 281.2v2" stroke="#222" stroke-width="0.5" fill="none"/><text x="273.65" y="297" class="ti">Decay classes</text><text transform="translate(193.6 229.05) rotate(-90)" y="1.8" class="ti">Ca/%</text><rect x="338.7" y="161.3" width="18.7" height="27.3" fill="#fff" stroke="#bbb" stroke-width="0.4"/><rect x="339.4" y="162.2" width="11.7" height="5.8" fill="#FDC790" stroke="#8a8a8a" stroke-width="0.45"/><text x="354.4" y="167" class="lg">P</text><rect x="339.4" y="168.9" width="11.7" height="5.8" fill="#98D698" stroke="#8a8a8a" stroke-width="0.45"/><text x="354.4" y="173.7" class="lg">L</text><rect x="339.4" y="175.6" width="11.7" height="5.8" fill="#C1B0D7" stroke="#8a8a8a" stroke-width="0.45"/><text x="354.4" y="180.4" class="lg">B</text><rect x="339.4" y="182.3" width="11.7" height="5.8" fill="#FFFF99" stroke="#8a8a8a" stroke-width="0.45"/><text x="354.4" y="187.1" class="lg">Q</text></g>
<g><rect x="398.31" y="255.63" width="5.12" height="25.57" fill="#FDC790" stroke="#A87848" stroke-width="0.45"/><path d="M400.87 240.61V270.64M400.07 240.61h1.6M400.07 270.64h1.6" stroke="#888" stroke-width="0.28" fill="none"/><text x="400.87" y="239.71" class="bl">Ab</text><rect x="403.43" y="215.91" width="5.12" height="65.29" fill="#98D698" stroke="#4F8F4F" stroke-width="0.45"/><path d="M405.99 211.32V220.5M405.19 211.32h1.6M405.19 220.5h1.6" stroke="#888" stroke-width="0.28" fill="none"/><text x="405.99" y="210.42" class="bl">Aa</text><rect x="408.55" y="212.78" width="5.12" height="68.42" fill="#C1B0D7" stroke="#7F6F9F" stroke-width="0.45"/><path d="M411.11 210.03V215.53M410.31 210.03h1.6M410.31 215.53h1.6" stroke="#888" stroke-width="0.28" fill="none"/><text x="411.11" y="209.13" class="bl">Aa</text><rect x="413.67" y="266.68" width="5.12" height="14.52" fill="#FFFF99" stroke="#A8A860" stroke-width="0.45"/><path d="M416.23 265.3V268.06M415.43 265.3h1.6M415.43 268.06h1.6" stroke="#888" stroke-width="0.28" fill="none"/><text x="416.23" y="264.4" class="bl">ABb</text><rect x="424.21" y="259.09" width="5.12" height="22.11" fill="#FDC790" stroke="#A87848" stroke-width="0.45"/><path d="M426.77 255.75V262.43M425.97 255.75h1.6M425.97 262.43h1.6" stroke="#888" stroke-width="0.28" fill="none"/><text x="426.77" y="254.85" class="bl">Ab</text><rect x="429.33" y="225.3" width="5.12" height="55.9" fill="#98D698" stroke="#4F8F4F" stroke-width="0.45"/><path d="M431.89 224.25V226.34M431.09 224.25h1.6M431.09 226.34h1.6" stroke="#888" stroke-width="0.28" fill="none"/><text x="431.89" y="223.35" class="bl">ABa</text><rect x="434.45" y="210.4" width="5.12" height="70.8" fill="#C1B0D7" stroke="#7F6F9F" stroke-width="0.45"/><path d="M437.01 193.71V227.09M436.21 193.71h1.6M436.21 227.09h1.6" stroke="#888" stroke-width="0.28" fill="none"/><text x="437.01" y="192.81" class="bl">Aa</text><rect x="439.57" y="266.01" width="5.12" height="15.19" fill="#FFFF99" stroke="#A8A860" stroke-width="0.45"/><path d="M442.13 264.64V267.39M441.33 264.64h1.6M441.33 267.39h1.6" stroke="#888" stroke-width="0.28" fill="none"/><text x="442.13" y="263.74" class="bl">ABb</text><rect x="450.11" y="265.35" width="5.12" height="15.85" fill="#FDC790" stroke="#A87848" stroke-width="0.45"/><path d="M452.67 254.92V275.78M451.87 254.92h1.6M451.87 275.78h1.6" stroke="#888" stroke-width="0.28" fill="none"/><text x="452.67" y="254.02" class="bl">Ab</text><rect x="455.23" y="235.31" width="5.12" height="45.89" fill="#98D698" stroke="#4F8F4F" stroke-width="0.45"/><path d="M457.79 223.63V246.99M456.99 223.63h1.6M456.99 246.99h1.6" stroke="#888" stroke-width="0.28" fill="none"/><text x="457.79" y="222.73" class="bl">BCa</text><rect x="460.35" y="225.3" width="5.12" height="55.9" fill="#C1B0D7" stroke="#7F6F9F" stroke-width="0.45"/><path d="M462.91 216.12V234.47M462.11 216.12h1.6M462.11 234.47h1.6" stroke="#888" stroke-width="0.28" fill="none"/><text x="462.91" y="215.22" class="bl">ABa</text><rect x="465.47" y="268.06" width="5.12" height="13.14" fill="#FFFF99" stroke="#A8A860" stroke-width="0.45"/><path d="M468.03 266.68V269.43M467.23 266.68h1.6M467.23 269.43h1.6" stroke="#888" stroke-width="0.28" fill="none"/><text x="468.03" y="265.78" class="bl">Bb</text><rect x="476.01" y="251.83" width="5.12" height="29.37" fill="#FDC790" stroke="#A87848" stroke-width="0.45"/><path d="M478.57 248.7V254.96M477.77 248.7h1.6M477.77 254.96h1.6" stroke="#888" stroke-width="0.28" fill="none"/><text x="478.57" y="247.8" class="bl">Ab</text><rect x="481.13" y="242.19" width="5.12" height="39.01" fill="#98D698" stroke="#4F8F4F" stroke-width="0.45"/><path d="M483.69 239.69V244.69M482.89 239.69h1.6M482.89 244.69h1.6" stroke="#888" stroke-width="0.28" fill="none"/><text x="483.69" y="238.79" class="bl">Ca</text><rect x="486.25" y="240.44" width="5.12" height="40.76" fill="#C1B0D7" stroke="#7F6F9F" stroke-width="0.45"/><path d="M488.81 235.02V245.86M488.01 235.02h1.6M488.01 245.86h1.6" stroke="#888" stroke-width="0.28" fill="none"/><text x="488.81" y="234.12" class="bl">Ba</text><rect x="491.37" y="264.93" width="5.12" height="16.27" fill="#FFFF99" stroke="#A8A860" stroke-width="0.45"/><path d="M493.93 261.8V268.06M493.13 261.8h1.6M493.13 268.06h1.6" stroke="#888" stroke-width="0.28" fill="none"/><text x="493.93" y="260.9" class="bl">Ac</text><rect x="501.91" y="257.71" width="5.12" height="23.49" fill="#FDC790" stroke="#A87848" stroke-width="0.45"/><path d="M504.47 254.37V261.05M503.67 254.37h1.6M503.67 261.05h1.6" stroke="#888" stroke-width="0.28" fill="none"/><text x="504.47" y="253.47" class="bl">Ac</text><rect x="507.03" y="245.32" width="5.12" height="35.88" fill="#98D698" stroke="#4F8F4F" stroke-width="0.45"/><path d="M509.59 240.15V250.49M508.79 240.15h1.6M508.79 250.49h1.6" stroke="#888" stroke-width="0.28" fill="none"/><text x="509.59" y="239.25" class="bl">Cb</text><rect x="512.15" y="236.31" width="5.12" height="44.89" fill="#C1B0D7" stroke="#7F6F9F" stroke-width="0.45"/><path d="M514.71 231.72V240.9M513.91 231.72h1.6M513.91 240.9h1.6" stroke="#888" stroke-width="0.28" fill="none"/><text x="514.71" y="230.82" class="bl">Ba</text><rect x="517.27" y="273.27" width="5.12" height="7.93" fill="#FFFF99" stroke="#A8A860" stroke-width="0.45"/><path d="M519.83 271.9V274.65M519.03 271.9h1.6M519.03 274.65h1.6" stroke="#888" stroke-width="0.28" fill="none"/><text x="519.83" y="271" class="bl">Cd</text><path d="M395.6 176.9V281.2H525.1" stroke="#3a3a3a" stroke-width="0.48" fill="none"/><text x="392.4" y="282.7" class="yt">0.00</text><text x="392.4" y="261.84" class="yt">0.05</text><text x="392.4" y="240.98" class="yt">0.10</text><text x="392.4" y="220.12" class="yt">0.15</text><text x="392.4" y="199.26" class="yt">0.20</text><text x="392.4" y="178.4" class="yt">0.25</text><text x="408.55" y="288" class="xt">1</text><text x="434.45" y="288" class="xt">2</text><text x="460.35" y="288" class="xt">3</text><text x="486.25" y="288" class="xt">4</text><text x="512.15" y="288" class="xt">5</text><path d="M395.6 281.2h-2M395.6 270.77h-1.1M395.6 260.34h-2M395.6 249.91h-1.1M395.6 239.48h-2M395.6 229.05h-1.1M395.6 218.62h-2M395.6 208.19h-1.1M395.6 197.76h-2M395.6 187.33h-1.1M395.6 176.9h-2M408.55 281.2v2M421.5 281.2v1.1M434.45 281.2v2M447.4 281.2v1.1M460.35 281.2v2M473.3 281.2v1.1M486.25 281.2v2M499.2 281.2v1.1M512.15 281.2v2" stroke="#222" stroke-width="0.5" fill="none"/><text x="460.35" y="297" class="ti">Decay classes</text><text transform="translate(380.3 229.05) rotate(-90)" y="1.8" class="ti">He/%</text><rect x="525.4" y="161.3" width="18.7" height="27.3" fill="#fff" stroke="#bbb" stroke-width="0.4"/><rect x="526.1" y="162.2" width="11.7" height="5.8" fill="#FDC790" stroke="#8a8a8a" stroke-width="0.45"/><text x="541.1" y="167" class="lg">P</text><rect x="526.1" y="168.9" width="11.7" height="5.8" fill="#98D698" stroke="#8a8a8a" stroke-width="0.45"/><text x="541.1" y="173.7" class="lg">L</text><rect x="526.1" y="175.6" width="11.7" height="5.8" fill="#C1B0D7" stroke="#8a8a8a" stroke-width="0.45"/><text x="541.1" y="180.4" class="lg">B</text><rect x="526.1" y="182.3" width="11.7" height="5.8" fill="#FFFF99" stroke="#8a8a8a" stroke-width="0.45"/><text x="541.1" y="187.1" class="lg">Q</text></g>
<g><rect x="24.31" y="357.41" width="5.12" height="79.79" fill="#FDC790" stroke="#A87848" stroke-width="0.45"/><path d="M26.87 347.73V367.1M26.07 347.73h1.6M26.07 367.1h1.6" stroke="#888" stroke-width="0.28" fill="none"/><text x="26.87" y="346.83" class="bl">Aa</text><rect x="29.43" y="348.1" width="5.12" height="89.1" fill="#98D698" stroke="#4F8F4F" stroke-width="0.45"/><path d="M31.99 343.26V352.94M31.19 343.26h1.6M31.19 352.94h1.6" stroke="#888" stroke-width="0.28" fill="none"/><text x="31.99" y="342.36" class="bl">ABa</text><rect x="34.55" y="376.11" width="5.12" height="61.09" fill="#C1B0D7" stroke="#7F6F9F" stroke-width="0.45"/><path d="M37.11 371.94V380.28M36.31 371.94h1.6M36.31 380.28h1.6" stroke="#888" stroke-width="0.28" fill="none"/><text x="37.11" y="371.04" class="bl">Ab</text><rect x="39.67" y="390.56" width="5.12" height="46.64" fill="#FFFF99" stroke="#A8A860" stroke-width="0.45"/><path d="M42.23 387.14V393.99M41.43 387.14h1.6M41.43 393.99h1.6" stroke="#888" stroke-width="0.28" fill="none"/><text x="42.23" y="386.24" class="bl">Bc</text><rect x="50.21" y="371.57" width="5.12" height="65.63" fill="#FDC790" stroke="#A87848" stroke-width="0.45"/><path d="M52.77 364.12V379.02M51.97 364.12h1.6M51.97 379.02h1.6" stroke="#888" stroke-width="0.28" fill="none"/><text x="52.77" y="363.22" class="bl">Bb</text><rect x="55.33" y="344.67" width="5.12" height="92.53" fill="#98D698" stroke="#4F8F4F" stroke-width="0.45"/><path d="M57.89 343.63V345.71M57.09 343.63h1.6M57.09 345.71h1.6" stroke="#888" stroke-width="0.28" fill="none"/><text x="57.89" y="342.73" class="bl">Aa</text><rect x="60.45" y="377.82" width="5.12" height="59.38" fill="#C1B0D7" stroke="#7F6F9F" stroke-width="0.45"/><path d="M63.01 370.37V385.27M62.21 370.37h1.6M62.21 385.27h1.6" stroke="#888" stroke-width="0.28" fill="none"/><text x="63.01" y="369.47" class="bl">Ab</text><rect x="65.57" y="372.61" width="5.12" height="64.59" fill="#FFFF99" stroke="#A8A860" stroke-width="0.45"/><path d="M68.13 369.18V376.04M67.33 369.18h1.6M67.33 376.04h1.6" stroke="#888" stroke-width="0.28" fill="none"/><text x="68.13" y="368.28" class="bl">Ab</text><rect x="76.11" y="379.54" width="5.12" height="57.66" fill="#FDC790" stroke="#A87848" stroke-width="0.45"/><path d="M78.67 369.85V389.22M77.87 369.85h1.6M77.87 389.22h1.6" stroke="#888" stroke-width="0.28" fill="none"/><text x="78.67" y="368.95" class="bl">BCb</text><rect x="81.23" y="359.12" width="5.12" height="78.08" fill="#98D698" stroke="#4F8F4F" stroke-width="0.45"/><path d="M83.79 346.01V372.24M82.99 346.01h1.6M82.99 372.24h1.6" stroke="#888" stroke-width="0.28" fill="none"/><text x="83.79" y="345.11" class="bl">BCa</text><rect x="86.35" y="383.34" width="5.12" height="53.86" fill="#C1B0D7" stroke="#7F6F9F" stroke-width="0.45"/><path d="M88.91 379.61V387.06M88.11 379.61h1.6M88.11 387.06h1.6" stroke="#888" stroke-width="0.28" fill="none"/><text x="88.91" y="378.71" class="bl">Ab</text><rect x="91.47" y="390.26" width="5.12" height="46.94" fill="#FFFF99" stroke="#A8A860" stroke-width="0.45"/><path d="M94.03 387.51V393.02M93.23 387.51h1.6M93.23 393.02h1.6" stroke="#888" stroke-width="0.28" fill="none"/><text x="94.03" y="386.61" class="bl">Bb</text><rect x="102.01" y="386.76" width="5.12" height="50.44" fill="#FDC790" stroke="#A87848" stroke-width="0.45"/><path d="M104.57 383.63V389.89M103.77 383.63h1.6M103.77 389.89h1.6" stroke="#888" stroke-width="0.28" fill="none"/><text x="104.57" y="382.73" class="bl">Cb</text><rect x="107.13" y="367.47" width="5.12" height="69.73" fill="#98D698" stroke="#4F8F4F" stroke-width="0.45"/><path d="M109.69 365.08V369.85M108.89 365.08h1.6M108.89 369.85h1.6" stroke="#888" stroke-width="0.28" fill="none"/><text x="109.69" y="364.18" class="bl">CDa</text><rect x="112.25" y="380.21" width="5.12" height="56.99" fill="#C1B0D7" stroke="#7F6F9F" stroke-width="0.45"/><path d="M114.81 372.01V388.4M114.01 372.01h1.6M114.01 388.4h1.6" stroke="#888" stroke-width="0.28" fill="none"/><text x="114.81" y="371.11" class="bl">Aab</text><rect x="117.37" y="370.52" width="5.12" height="66.68" fill="#FFFF99" stroke="#A8A860" stroke-width="0.45"/><path d="M119.93 359.79V381.25M119.13 359.79h1.6M119.13 381.25h1.6" stroke="#888" stroke-width="0.28" fill="none"/><text x="119.93" y="358.89" class="bl">Aa</text><rect x="127.91" y="392.28" width="5.12" height="44.92" fill="#FDC790" stroke="#A87848" stroke-width="0.45"/><path d="M130.47 387.43V397.12M129.67 387.43h1.6M129.67 397.12h1.6" stroke="#888" stroke-width="0.28" fill="none"/><text x="130.47" y="386.53" class="bl">Cb</text><rect x="133.03" y="376.41" width="5.12" height="60.79" fill="#98D698" stroke="#4F8F4F" stroke-width="0.45"/><path d="M135.59 375.03V377.79M134.79 375.03h1.6M134.79 377.79h1.6" stroke="#888" stroke-width="0.28" fill="none"/><text x="135.59" y="374.13" class="bl">Da</text><rect x="138.15" y="394.36" width="5.12" height="42.84" fill="#C1B0D7" stroke="#7F6F9F" stroke-width="0.45"/><path d="M140.71 387.43V401.29M139.91 387.43h1.6M139.91 401.29h1.6" stroke="#888" stroke-width="0.28" fill="none"/><text x="140.71" y="386.53" class="bl">Bb</text><rect x="143.27" y="413.73" width="5.12" height="23.47" fill="#FFFF99" stroke="#A8A860" stroke-width="0.45"/><path d="M145.83 410.6V416.86M145.03 410.6h1.6M145.03 416.86h1.6" stroke="#888" stroke-width="0.28" fill="none"/><text x="145.83" y="409.7" class="bl">Cc</text><path d="M21.6 332.9V437.2H151.1" stroke="#3a3a3a" stroke-width="0.48" fill="none"/><text x="18.4" y="438.7" class="yt">0.0</text><text x="18.4" y="423.8" class="yt">0.2</text><text x="18.4" y="408.9" class="yt">0.4</text><text x="18.4" y="394" class="yt">0.6</text><text x="18.4" y="379.1" class="yt">0.8</text><text x="18.4" y="364.2" class="yt">1.0</text><text x="18.4" y="349.3" class="yt">1.2</text><text x="18.4" y="334.4" class="yt">1.4</text><text x="34.55" y="444" class="xt">1</text><text x="60.45" y="444" class="xt">2</text><text x="86.35" y="444" class="xt">3</text><text x="112.25" y="444" class="xt">4</text><text x="138.15" y="444" class="xt">5</text><path d="M21.6 437.2h-2M21.6 429.75h-1.1M21.6 422.3h-2M21.6 414.85h-1.1M21.6 407.4h-2M21.6 399.95h-1.1M21.6 392.5h-2M21.6 385.05h-1.1M21.6 377.6h-2M21.6 370.15h-1.1M21.6 362.7h-2M21.6 355.25h-1.1M21.6 347.8h-2M21.6 340.35h-1.1M21.6 332.9h-2M34.55 437.2v2M47.5 437.2v1.1M60.45 437.2v2M73.4 437.2v1.1M86.35 437.2v2M99.3 437.2v1.1M112.25 437.2v2M125.2 437.2v1.1M138.15 437.2v2" stroke="#222" stroke-width="0.5" fill="none"/><text x="86.35" y="453" class="ti">Decay classes</text><text transform="translate(8.6 385.05) rotate(-90)" y="1.8" class="ti">Glu(g/L)</text><rect x="151.4" y="317.3" width="18.7" height="27.3" fill="#fff" stroke="#bbb" stroke-width="0.4"/><rect x="152.1" y="318.2" width="11.7" height="5.8" fill="#FDC790" stroke="#8a8a8a" stroke-width="0.45"/><text x="167.1" y="323" class="lg">P</text><rect x="152.1" y="324.9" width="11.7" height="5.8" fill="#98D698" stroke="#8a8a8a" stroke-width="0.45"/><text x="167.1" y="329.7" class="lg">L</text><rect x="152.1" y="331.6" width="11.7" height="5.8" fill="#C1B0D7" stroke="#8a8a8a" stroke-width="0.45"/><text x="167.1" y="336.4" class="lg">B</text><rect x="152.1" y="338.3" width="11.7" height="5.8" fill="#FFFF99" stroke="#8a8a8a" stroke-width="0.45"/><text x="167.1" y="343.1" class="lg">Q</text></g>
<g><rect x="211.41" y="409.27" width="5.12" height="27.93" fill="#FDC790" stroke="#A87848" stroke-width="0.45"/><path d="M213.97 392.35V426.19M213.17 392.35h1.6M213.17 426.19h1.6" stroke="#888" stroke-width="0.28" fill="none"/><text x="213.97" y="391.45" class="bl">Ac</text><rect x="216.53" y="365.7" width="5.12" height="71.5" fill="#98D698" stroke="#4F8F4F" stroke-width="0.45"/><path d="M219.09 360.48V370.91M218.29 360.48h1.6M218.29 370.91h1.6" stroke="#888" stroke-width="0.28" fill="none"/><text x="219.09" y="359.58" class="bl">Aa</text><rect x="221.65" y="362.57" width="5.12" height="74.63" fill="#C1B0D7" stroke="#7F6F9F" stroke-width="0.45"/><path d="M224.21 359.09V366.04M223.41 359.09h1.6M223.41 366.04h1.6" stroke="#888" stroke-width="0.28" fill="none"/><text x="224.21" y="358.19" class="bl">Aa</text><rect x="226.77" y="390.26" width="5.12" height="46.94" fill="#FFFF99" stroke="#A8A860" stroke-width="0.45"/><path d="M229.33 386.79V393.74M228.53 386.79h1.6M228.53 393.74h1.6" stroke="#888" stroke-width="0.28" fill="none"/><text x="229.33" y="385.89" class="bl">ABb</text><rect x="237.31" y="413.37" width="5.12" height="23.83" fill="#FDC790" stroke="#A87848" stroke-width="0.45"/><path d="M239.87 409.2V417.55M239.07 409.2h1.6M239.07 417.55h1.6" stroke="#888" stroke-width="0.28" fill="none"/><text x="239.87" y="408.3" class="bl">Ac</text><rect x="242.43" y="376.47" width="5.12" height="60.73" fill="#98D698" stroke="#4F8F4F" stroke-width="0.45"/><path d="M244.99 375.08V377.86M244.19 375.08h1.6M244.19 377.86h1.6" stroke="#888" stroke-width="0.28" fill="none"/><text x="244.99" y="374.18" class="bl">ABab</text><rect x="247.55" y="360.54" width="5.12" height="76.66" fill="#C1B0D7" stroke="#7F6F9F" stroke-width="0.45"/><path d="M250.11 341.53V379.55M249.31 341.53h1.6M249.31 379.55h1.6" stroke="#888" stroke-width="0.28" fill="none"/><text x="250.11" y="340.63" class="bl">Aa</text><rect x="252.67" y="386.79" width="5.12" height="50.41" fill="#FFFF99" stroke="#A8A860" stroke-width="0.45"/><path d="M255.23 385.4V388.18M254.43 385.4h1.6M254.43 388.18h1.6" stroke="#888" stroke-width="0.28" fill="none"/><text x="255.23" y="384.5" class="bl">ABb</text><rect x="263.21" y="419.93" width="5.12" height="17.27" fill="#FDC790" stroke="#A87848" stroke-width="0.45"/><path d="M265.77 408.34V431.52M264.97 408.34h1.6M264.97 431.52h1.6" stroke="#888" stroke-width="0.28" fill="none"/><text x="265.77" y="407.44" class="bl">Ab</text><rect x="268.33" y="386.79" width="5.12" height="50.41" fill="#98D698" stroke="#4F8F4F" stroke-width="0.45"/><path d="M270.89 374.39V399.19M270.09 374.39h1.6M270.09 399.19h1.6" stroke="#888" stroke-width="0.28" fill="none"/><text x="270.89" y="373.49" class="bl">BCa</text><rect x="273.45" y="375.78" width="5.12" height="61.42" fill="#C1B0D7" stroke="#7F6F9F" stroke-width="0.45"/><path d="M276.01 365.81V385.75M275.21 365.81h1.6M275.21 385.75h1.6" stroke="#888" stroke-width="0.28" fill="none"/><text x="276.01" y="364.91" class="bl">ABa</text><rect x="278.57" y="394.03" width="5.12" height="43.17" fill="#FFFF99" stroke="#A8A860" stroke-width="0.45"/><path d="M281.13 391.71V396.35M280.33 391.71h1.6M280.33 396.35h1.6" stroke="#888" stroke-width="0.28" fill="none"/><text x="281.13" y="390.81" class="bl">Ba</text><rect x="289.11" y="405.45" width="5.12" height="31.75" fill="#FDC790" stroke="#A87848" stroke-width="0.45"/><path d="M291.67 402.67V408.23M290.87 402.67h1.6M290.87 408.23h1.6" stroke="#888" stroke-width="0.28" fill="none"/><text x="291.67" y="401.77" class="bl">Ab</text><rect x="294.23" y="394.38" width="5.12" height="42.82" fill="#98D698" stroke="#4F8F4F" stroke-width="0.45"/><path d="M296.79 391.6V397.16M295.99 391.6h1.6M295.99 397.16h1.6" stroke="#888" stroke-width="0.28" fill="none"/><text x="296.79" y="390.7" class="bl">Cab</text><rect x="299.35" y="393.05" width="5.12" height="44.15" fill="#C1B0D7" stroke="#7F6F9F" stroke-width="0.45"/><path d="M301.91 387.48V398.61M301.11 387.48h1.6M301.11 398.61h1.6" stroke="#888" stroke-width="0.28" fill="none"/><text x="301.91" y="386.58" class="bl">Ba</text><rect x="304.47" y="383.31" width="5.12" height="53.89" fill="#FFFF99" stroke="#A8A860" stroke-width="0.45"/><path d="M307.03 375.37V391.25M306.23 375.37h1.6M306.23 391.25h1.6" stroke="#888" stroke-width="0.28" fill="none"/><text x="307.03" y="374.47" class="bl">Aa</text><rect x="315.01" y="411.65" width="5.12" height="25.55" fill="#FDC790" stroke="#A87848" stroke-width="0.45"/><path d="M317.57 407.47V415.82M316.77 407.47h1.6M316.77 415.82h1.6" stroke="#888" stroke-width="0.28" fill="none"/><text x="317.57" y="406.57" class="bl">Ac</text><rect x="320.13" y="397.8" width="5.12" height="39.4" fill="#98D698" stroke="#4F8F4F" stroke-width="0.45"/><path d="M322.69 392V403.59M321.89 392h1.6M321.89 403.59h1.6" stroke="#888" stroke-width="0.28" fill="none"/><text x="322.69" y="391.1" class="bl">Cb</text><rect x="325.25" y="388.53" width="5.12" height="48.67" fill="#C1B0D7" stroke="#7F6F9F" stroke-width="0.45"/><path d="M327.81 383.66V393.39M327.01 383.66h1.6M327.01 393.39h1.6" stroke="#888" stroke-width="0.28" fill="none"/><text x="327.81" y="382.76" class="bl">Ba</text><rect x="330.37" y="412.68" width="5.12" height="24.52" fill="#FFFF99" stroke="#A8A860" stroke-width="0.45"/><path d="M332.93 408.85V416.5M332.13 408.85h1.6M332.13 416.5h1.6" stroke="#888" stroke-width="0.28" fill="none"/><text x="332.93" y="407.95" class="bl">Cc</text><path d="M208.7 332.9V437.2H338.2" stroke="#3a3a3a" stroke-width="0.48" fill="none"/><text x="205.5" y="438.7" class="yt">0.0</text><text x="205.5" y="427.11" class="yt">0.1</text><text x="205.5" y="415.52" class="yt">0.2</text><text x="205.5" y="403.93" class="yt">0.3</text><text x="205.5" y="392.34" class="yt">0.4</text><text x="205.5" y="380.76" class="yt">0.5</text><text x="205.5" y="369.17" class="yt">0.6</text><text x="205.5" y="357.58" class="yt">0.7</text><text x="205.5" y="345.99" class="yt">0.8</text><text x="205.5" y="334.4" class="yt">0.9</text><text x="221.65" y="444" class="xt">1</text><text x="247.55" y="444" class="xt">2</text><text x="273.45" y="444" class="xt">3</text><text x="299.35" y="444" class="xt">4</text><text x="325.25" y="444" class="xt">5</text><path d="M208.7 437.2h-2M208.7 431.41h-1.1M208.7 425.61h-2M208.7 419.82h-1.1M208.7 414.02h-2M208.7 408.23h-1.1M208.7 402.43h-2M208.7 396.64h-1.1M208.7 390.84h-2M208.7 385.05h-1.1M208.7 379.26h-2M208.7 373.46h-1.1M208.7 367.67h-2M208.7 361.87h-1.1M208.7 356.08h-2M208.7 350.28h-1.1M208.7 344.49h-2M208.7 338.69h-1.1M208.7 332.9h-2M221.65 437.2v2M234.6 437.2v1.1M247.55 437.2v2M260.5 437.2v1.1M273.45 437.2v2M286.4 437.2v1.1M299.35 437.2v2M312.3 437.2v1.1M325.25 437.2v2" stroke="#222" stroke-width="0.5" fill="none"/><text x="273.45" y="453" class="ti">Decay classes</text><text transform="translate(195.7 385.05) rotate(-90)" y="1.8" class="ti">Xyl(g/L)</text><rect x="338.5" y="317.3" width="18.7" height="27.3" fill="#fff" stroke="#bbb" stroke-width="0.4"/><rect x="339.2" y="318.2" width="11.7" height="5.8" fill="#FDC790" stroke="#8a8a8a" stroke-width="0.45"/><text x="354.2" y="323" class="lg">P</text><rect x="339.2" y="324.9" width="11.7" height="5.8" fill="#98D698" stroke="#8a8a8a" stroke-width="0.45"/><text x="354.2" y="329.7" class="lg">L</text><rect x="339.2" y="331.6" width="11.7" height="5.8" fill="#C1B0D7" stroke="#8a8a8a" stroke-width="0.45"/><text x="354.2" y="336.4" class="lg">B</text><rect x="339.2" y="338.3" width="11.7" height="5.8" fill="#FFFF99" stroke="#8a8a8a" stroke-width="0.45"/><text x="354.2" y="343.1" class="lg">Q</text></g>
<g><rect x="398.31" y="347.5" width="5.12" height="89.7" fill="#FDC790" stroke="#A87848" stroke-width="0.45"/><path d="M400.87 338.95V356.05M400.07 338.95h1.6M400.07 356.05h1.6" stroke="#888" stroke-width="0.28" fill="none"/><text x="400.87" y="338.05" class="bl">Aa</text><rect x="403.43" y="346.46" width="5.12" height="90.74" fill="#98D698" stroke="#4F8F4F" stroke-width="0.45"/><path d="M405.99 342.29V350.63M405.19 342.29h1.6M405.19 350.63h1.6" stroke="#888" stroke-width="0.28" fill="none"/><text x="405.99" y="341.39" class="bl">Aa</text><rect x="408.55" y="350.42" width="5.12" height="86.78" fill="#C1B0D7" stroke="#7F6F9F" stroke-width="0.45"/><path d="M411.11 349.38V351.47M410.31 349.38h1.6M410.31 351.47h1.6" stroke="#888" stroke-width="0.28" fill="none"/><text x="411.11" y="348.48" class="bl">Aa</text><rect x="413.67" y="346.67" width="5.12" height="90.53" fill="#FFFF99" stroke="#A8A860" stroke-width="0.45"/><path d="M416.23 339.78V353.55M415.43 339.78h1.6M415.43 353.55h1.6" stroke="#888" stroke-width="0.28" fill="none"/><text x="416.23" y="338.88" class="bl">Aa</text><rect x="424.21" y="368.15" width="5.12" height="69.05" fill="#FDC790" stroke="#A87848" stroke-width="0.45"/><path d="M426.77 367.11V369.2M425.97 367.11h1.6M425.97 369.2h1.6" stroke="#888" stroke-width="0.28" fill="none"/><text x="426.77" y="366.21" class="bl">Ba</text><rect x="429.33" y="369.82" width="5.12" height="67.38" fill="#98D698" stroke="#4F8F4F" stroke-width="0.45"/><path d="M431.89 368.45V371.2M431.09 368.45h1.6M431.09 371.2h1.6" stroke="#888" stroke-width="0.28" fill="none"/><text x="431.89" y="367.55" class="bl">Ba</text><rect x="434.45" y="369.51" width="5.12" height="67.69" fill="#C1B0D7" stroke="#7F6F9F" stroke-width="0.45"/><path d="M437.01 368.13V370.89M436.21 368.13h1.6M436.21 370.89h1.6" stroke="#888" stroke-width="0.28" fill="none"/><text x="437.01" y="367.23" class="bl">Ba</text><rect x="439.57" y="368.78" width="5.12" height="68.42" fill="#FFFF99" stroke="#A8A860" stroke-width="0.45"/><path d="M442.13 366.28V371.28M441.33 366.28h1.6M441.33 371.28h1.6" stroke="#888" stroke-width="0.28" fill="none"/><text x="442.13" y="365.38" class="bl">Ba</text><rect x="450.11" y="386.51" width="5.12" height="50.69" fill="#FDC790" stroke="#A87848" stroke-width="0.45"/><path d="M452.67 382.13V390.89M451.87 382.13h1.6M451.87 390.89h1.6" stroke="#888" stroke-width="0.28" fill="none"/><text x="452.67" y="381.23" class="bl">Ca</text><rect x="455.23" y="385.68" width="5.12" height="51.52" fill="#98D698" stroke="#4F8F4F" stroke-width="0.45"/><path d="M457.79 378.79V392.56M456.99 378.79h1.6M456.99 392.56h1.6" stroke="#888" stroke-width="0.28" fill="none"/><text x="457.79" y="377.89" class="bl">Ca</text><rect x="460.35" y="396.52" width="5.12" height="40.68" fill="#C1B0D7" stroke="#7F6F9F" stroke-width="0.45"/><path d="M462.91 394.85V398.19M462.11 394.85h1.6M462.11 398.19h1.6" stroke="#888" stroke-width="0.28" fill="none"/><text x="462.91" y="393.95" class="bl">Cb</text><rect x="465.47" y="385.47" width="5.12" height="51.73" fill="#FFFF99" stroke="#A8A860" stroke-width="0.45"/><path d="M468.03 378.58V392.35M467.23 378.58h1.6M467.23 392.35h1.6" stroke="#888" stroke-width="0.28" fill="none"/><text x="468.03" y="377.68" class="bl">Ca</text><rect x="476.01" y="400.69" width="5.12" height="36.5" fill="#FDC790" stroke="#A87848" stroke-width="0.45"/><path d="M478.57 399.03V402.36M477.77 399.03h1.6M477.77 402.36h1.6" stroke="#888" stroke-width="0.28" fill="none"/><text x="478.57" y="398.13" class="bl">Da</text><rect x="481.13" y="407.58" width="5.12" height="29.62" fill="#98D698" stroke="#4F8F4F" stroke-width="0.45"/><path d="M483.69 403.2V411.96M482.89 403.2h1.6M482.89 411.96h1.6" stroke="#888" stroke-width="0.28" fill="none"/><text x="483.69" y="402.3" class="bl">Db</text><rect x="486.25" y="406.12" width="5.12" height="31.08" fill="#C1B0D7" stroke="#7F6F9F" stroke-width="0.45"/><path d="M488.81 401.32V410.92M488.01 401.32h1.6M488.01 410.92h1.6" stroke="#888" stroke-width="0.28" fill="none"/><text x="488.81" y="400.42" class="bl">Dab</text><rect x="491.37" y="403.41" width="5.12" height="33.79" fill="#FFFF99" stroke="#A8A860" stroke-width="0.45"/><path d="M493.93 399.96V406.85M493.13 399.96h1.6M493.13 406.85h1.6" stroke="#888" stroke-width="0.28" fill="none"/><text x="493.93" y="399.06" class="bl">Dab</text><rect x="501.91" y="421.97" width="5.12" height="15.23" fill="#FDC790" stroke="#A87848" stroke-width="0.45"/><path d="M504.47 419.26V424.68M503.67 419.26h1.6M503.67 424.68h1.6" stroke="#888" stroke-width="0.28" fill="none"/><text x="504.47" y="418.36" class="bl">Ea</text><rect x="507.03" y="422.39" width="5.12" height="14.81" fill="#98D698" stroke="#4F8F4F" stroke-width="0.45"/><path d="M509.59 420.72V424.06M508.79 420.72h1.6M508.79 424.06h1.6" stroke="#888" stroke-width="0.28" fill="none"/><text x="509.59" y="419.82" class="bl">Ea</text><rect x="512.15" y="424.48" width="5.12" height="12.72" fill="#C1B0D7" stroke="#7F6F9F" stroke-width="0.45"/><path d="M514.71 423.43V425.52M513.91 423.43h1.6M513.91 425.52h1.6" stroke="#888" stroke-width="0.28" fill="none"/><text x="514.71" y="422.53" class="bl">Ea</text><rect x="517.27" y="423.64" width="5.12" height="13.56" fill="#FFFF99" stroke="#A8A860" stroke-width="0.45"/><path d="M519.83 421.35V425.94M519.03 421.35h1.6M519.03 425.94h1.6" stroke="#888" stroke-width="0.28" fill="none"/><text x="519.83" y="420.45" class="bl">Ea</text><path d="M395.6 332.9V437.2H525.1" stroke="#3a3a3a" stroke-width="0.48" fill="none"/><text x="392.4" y="438.7" class="yt">0</text><text x="392.4" y="417.84" class="yt">10</text><text x="392.4" y="396.98" class="yt">20</text><text x="392.4" y="376.12" class="yt">30</text><text x="392.4" y="355.26" class="yt">40</text><text x="392.4" y="334.4" class="yt">50</text><text x="408.55" y="444" class="xt">1</text><text x="434.45" y="444" class="xt">2</text><text x="460.35" y="444" class="xt">3</text><text x="486.25" y="444" class="xt">4</text><text x="512.15" y="444" class="xt">5</text><path d="M395.6 437.2h-2M395.6 426.77h-1.1M395.6 416.34h-2M395.6 405.91h-1.1M395.6 395.48h-2M395.6 385.05h-1.1M395.6 374.62h-2M395.6 364.19h-1.1M395.6 353.76h-2M395.6 343.33h-1.1M395.6 332.9h-2M408.55 437.2v2M421.5 437.2v1.1M434.45 437.2v2M447.4 437.2v1.1M460.35 437.2v2M473.3 437.2v1.1M486.25 437.2v2M499.2 437.2v1.1M512.15 437.2v2" stroke="#222" stroke-width="0.5" fill="none"/><text x="460.35" y="453" class="ti">Decay classes</text><text transform="translate(384.6 385.05) rotate(-90)" y="1.8" class="ti">H/(N/mm²)</text><rect x="525.4" y="317.3" width="18.7" height="27.3" fill="#fff" stroke="#bbb" stroke-width="0.4"/><rect x="526.1" y="318.2" width="11.7" height="5.8" fill="#FDC790" stroke="#8a8a8a" stroke-width="0.45"/><text x="541.1" y="323" class="lg">P</text><rect x="526.1" y="324.9" width="11.7" height="5.8" fill="#98D698" stroke="#8a8a8a" stroke-width="0.45"/><text x="541.1" y="329.7" class="lg">L</text><rect x="526.1" y="331.6" width="11.7" height="5.8" fill="#C1B0D7" stroke="#8a8a8a" stroke-width="0.45"/><text x="541.1" y="336.4" class="lg">B</text><rect x="526.1" y="338.3" width="11.7" height="5.8" fill="#FFFF99" stroke="#8a8a8a" stroke-width="0.45"/><text x="541.1" y="343.1" class="lg">Q</text></g>
</svg>
</body></html>
